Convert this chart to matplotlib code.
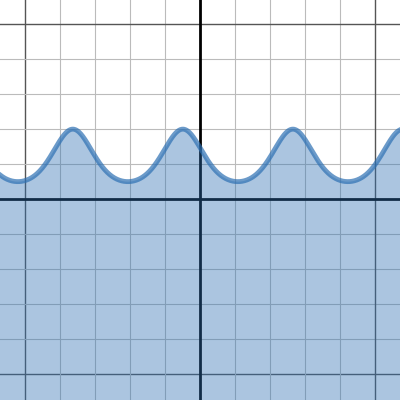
import numpy as np
import matplotlib
matplotlib.use("Agg")
import matplotlib.pyplot as plt

# view window (graph units) and curve parameters
x_range = (-5.71, 5.71)
y_range = (-5.74, 5.69)
base = 2.0          # max 2, min 0.5
phase = 0.49        # peak near x = -0.49
minor_ticks = np.arange(-5, 6, 1)
major_ticks = [-5, 0, 5]

x = np.linspace(x_range[0], x_range[1], 1500)
y = base ** np.cos(2 * (x + phase))

fig = plt.figure(figsize=(4, 4), dpi=100)
ax = fig.add_axes([0, 0, 1, 1])
ax.set_xlim(*x_range)
ax.set_ylim(*y_range)
ax.axis("off")

for t in minor_ticks:
    major = t in major_ticks
    c, lw = ("#555555", 1.0) if major else ("#bbbbbb", 0.8)
    if t != 0:
        ax.axvline(t, color=c, lw=lw, zorder=1)
        ax.axhline(t, color=c, lw=lw, zorder=1)
ax.axvline(0, color="black", lw=2, zorder=2)
ax.axhline(0, color="black", lw=2, zorder=2)

ax.fill_between(x, y_range[0], y, color="#2d70b3", alpha=0.4, lw=0, zorder=3)
ax.plot(x, y, color="#2d70b3", alpha=0.7, lw=3.5, zorder=4)

fig.savefig("out.png", dpi=100)
